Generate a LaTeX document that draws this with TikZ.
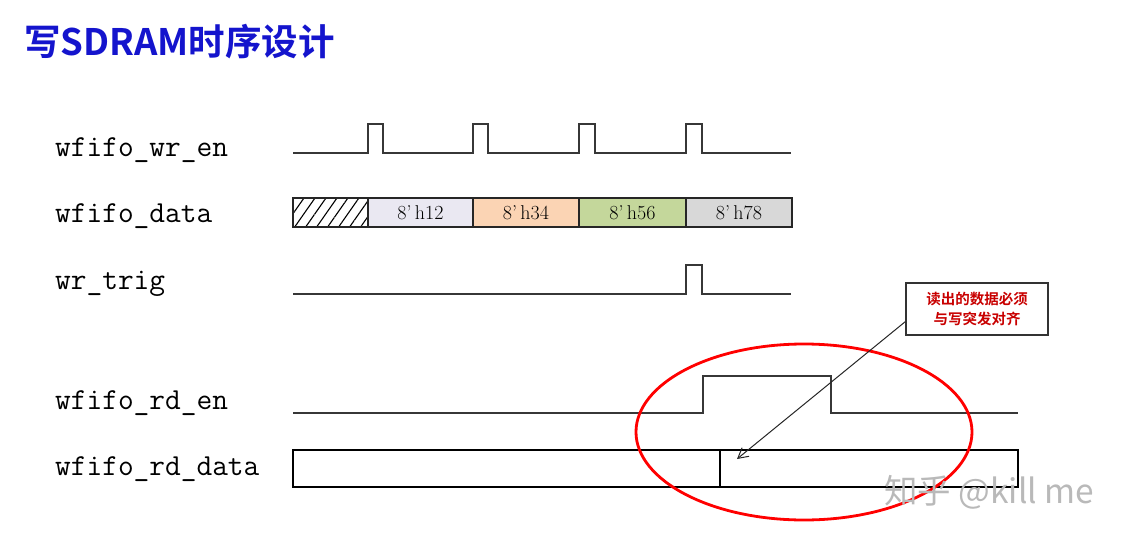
\documentclass[tikz,border=0pt]{standalone}
\usepackage{fontspec}
\newfontfamily\cjk[BoldFont={Noto Sans CJK SC Bold}]{Noto Sans CJK SC}
\usetikzlibrary{arrows.meta,patterns.meta}
\definecolor{titleblue}{RGB}{20,20,205}
\definecolor{notered}{RGB}{200,0,0}
\definecolor{wavegray}{RGB}{55,55,55}
\definecolor{cellA}{RGB}{234,232,242}
\definecolor{cellB}{RGB}{251,212,180}
\definecolor{cellC}{RGB}{196,215,155}
\definecolor{cellD}{RGB}{216,216,216}
\tikzset{
  sig/.style={draw=wavegray, line width=1.6pt, line join=miter},
  lbl/.style={anchor=west, inner sep=0pt, font=\ttfamily\fontsize{30.5}{32}\selectfont},
  cell/.style={draw=black!85, line width=1.4pt, inner sep=0pt, outer sep=0pt,
    minimum height=29pt, font=\fontsize{20}{22}\selectfont},
  rdcell/.style={draw=black, line width=1.2pt, inner sep=0pt, outer sep=0pt,
    minimum height=37pt},
  notebox/.style={draw=black!80, line width=1.4pt, minimum width=142pt, minimum height=52pt,
    inner sep=0pt, align=center, text=notered,
    font=\cjk\bfseries\fontsize{14.5}{19.5}\selectfont}
}
\begin{document}
\begin{tikzpicture}[x=1pt, y=-1pt]
  \useasboundingbox (0,0) rectangle (1128,538);
  % title
  \node[anchor=west, inner sep=0pt, text=titleblue, font=\cjk\bfseries\fontsize{36.5}{40}\selectfont]
    (title) at (24,42) {写SDRAM时序设计};
  % signal names
  \node[lbl] (wren) at (55,150) {wfifo\_wr\_en};
  \node[lbl] (wdata) at (55,216) {wfifo\_data};
  \node[lbl] (trig) at (55,284) {wr\_trig};
  \node[lbl] (rden) at (55,403) {wfifo\_rd\_en};
  \node[lbl] (rdata) at (55,469) {wfifo\_rd\_data};
  % wfifo_wr_en
  \draw[sig] (293,153) -- (368,153) -- (368,124) -- (383,124) -- (383,153)
    -- (473,153) -- (473,124) -- (488,124) -- (488,153)
    -- (579,153) -- (579,124) -- (595,124) -- (595,153)
    -- (686,153) -- (686,124) -- (702,124) -- (702,153) -- (791,153);
  % wfifo_data
  \node[cell, minimum width=75pt, pattern={Lines[angle=55, distance=9pt, line width=1.1pt]}]
    (d0) at (330.5,212.5) {};
  \node[cell, minimum width=105pt, fill=cellA] (d1) at (420.5,212.5) {8'\,h12};
  \node[cell, minimum width=106pt, fill=cellB] (d2) at (526,212.5) {8'\,h34};
  \node[cell, minimum width=107pt, fill=cellC] (d3) at (632.5,212.5) {8'\,h56};
  \node[cell, minimum width=106pt, fill=cellD] (d4) at (739,212.5) {8'\,h78};
  % wr_trig
  \draw[sig] (293,294) -- (686,294) -- (686,265) -- (702,265) -- (702,294) -- (791,294);
  \draw[sig, line width=2.4pt] (594,294) -- (664,294);
  % wfifo_rd_en
  \draw[sig] (293,413) -- (703,413) -- (703,376) -- (831,376) -- (831,413) -- (1018,413);
  % wfifo_rd_data
  \node[rdcell, minimum width=427pt] (rd0) at (506.5,468.5) {};
  \node[rdcell, minimum width=298pt] (rd1) at (869,468.5) {};
  % note
  \draw[red, line width=2.8pt] (804,432) ellipse [x radius=168pt, y radius=88pt];
  \node[notebox] (note) at (977,309) {读出的数据必须\\与写突发对齐};
  \coordinate (hit) at (737,459);
  \draw[black!85, line width=1pt, -{Straight Barb[length=10pt, width=11pt]}] (note.190) -- (hit);
  % watermark
  \node[anchor=west, inner sep=0pt, text=gray!55, font=\cjk\fontsize{33.5}{35}\selectfont]
    (mark) at (884,492) {知乎 @kill me};
\end{tikzpicture}
\end{document}
